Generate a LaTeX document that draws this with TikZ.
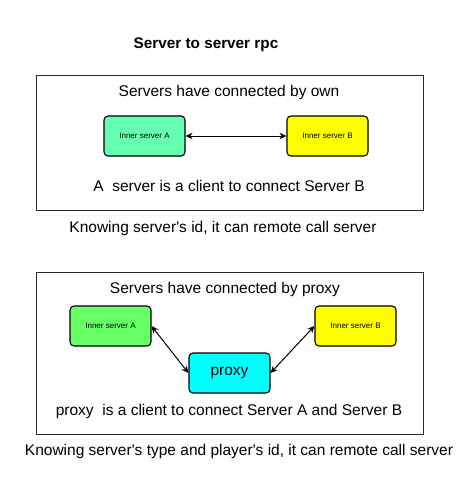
\documentclass[tikz,border=0pt]{standalone}
\usepackage{fontspec}
\setmainfont{Liberation Sans}
\usepackage{tikz}
\usetikzlibrary{arrows,arrows.meta,shapes,positioning}
\usepackage{xcolor}
\definecolor{srvaqua}{RGB}{102,255,178}
\definecolor{srvgreen}{RGB}{102,255,102}
\definecolor{srvyellow}{RGB}{255,255,0}
\definecolor{srvcyan}{RGB}{0,255,255}
\definecolor{srvframe}{RGB}{40,40,40}

\begin{document}
\begin{tikzpicture}[x=1pt, y=-1pt,
    server/.style={rectangle, rounded corners=4pt, draw=black, line width=1.1pt, minimum width=81pt, minimum height=40pt, inner sep=0pt, font=\fontsize{8}{9}\selectfont},
    frame/.style={rectangle, draw=srvframe, line width=0.9pt, inner sep=0pt},
    caption/.style={inner sep=0pt, font=\fontsize{15.5}{18}\selectfont},
    relationship/.style={{Stealth[length=7pt,width=6.5pt]}-{Stealth[length=7pt,width=6.5pt]}, line width=1pt, black}]

\useasboundingbox (0,0) rectangle (474,491);

% Title
\node[caption, font=\fontsize{15.3}{18}\selectfont\bfseries] (title) at (206,45) {Server to server rpc};

% Direct connection
\node[frame, minimum width=387pt, minimum height=135pt] (ownbox) at (229.5,142.5) {};
\node[caption] (owntitle) at (229,92) {Servers have connected by own};
\node[server, fill=srvaqua] (innerA) at (144.5,136) {Inner server A};
\node[server, fill=srvyellow] (innerB) at (327.5,136) {Inner server B};
\node[caption] (ownnote) at (229,186) {A~~server is a client to connect Server B};
\node[caption] (owncall) at (223,228) {Knowing server\textquotesingle s id, it can remote call server};

% Connection by proxy
\node[frame, minimum width=387pt, minimum height=162pt] (proxybox) at (229.5,353) {};
\node[caption] (proxytitle) at (225,289) {Servers have connected by proxy};
\node[server, fill=srvgreen] (proxyA) at (110.5,326) {Inner server A};
\node[server, fill=srvyellow] (proxyB) at (355.5,326) {Inner server B};
\node[server, fill=srvcyan, font=\fontsize{15.5}{18}\selectfont] (proxy) at (229.5,373) {proxy};
\node[caption] (proxynote) at (229,411) {proxy~~is a client to connect Server A and Server B};
\node[caption] (proxycall) at (239,451) {Knowing server\textquotesingle s type and player\textquotesingle s id, it can remote call server};

% Connections
\draw[relationship] (innerA) -- (innerB);
\draw[relationship] (proxyA.east) -- (proxy.west);
\draw[relationship] (proxy.east) -- (proxyB.west);
\end{tikzpicture}
\end{document}
